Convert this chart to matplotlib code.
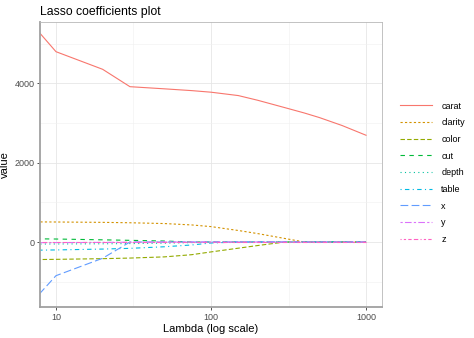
import matplotlib
matplotlib.use("Agg")
import matplotlib.pyplot as plt
from matplotlib.ticker import FixedLocator, NullFormatter

plt.rcParams["font.family"] = ["Liberation Sans", "DejaVu Sans"]
plt.rcParams["lines.scale_dashes"] = False

# Penalty values along the regularisation path
lambdas = [5, 10, 20, 30, 50, 75, 100, 150, 200, 300, 400, 500, 700, 1000]

# Coefficient estimates per feature at each lambda
carat   = [6150, 4796, 4352, 3914, 3860, 3815, 3775, 3690, 3572, 3385, 3251, 3136, 2936, 2690]
clarity = [510, 504, 495, 485, 465, 430, 388, 290, 212, 88, 0, 0, 0, 0]
color   = [-450, -437, -420, -405, -375, -320, -250, -156, -89, 0, 0, 0, 0, 0]
cut     = [88, 75, 55, 42, 25, 0, 0, 0, 0, 0, 0, 0, 0, 0]
depth   = [-55, -50, -45, -40, -30, -15, 0, 0, 0, 0, 0, 0, 0, 0]
table   = [-215, -200, -178, -160, -120, -75, -25, 0, 0, 0, 0, 0, 0, 0]
x       = [-2144, -849, -410, 0, 0, 0, 0, 0, 0, 0, 0, 0, 0, 0]
y       = [-20, -15, -10, -5, 0, 0, 0, 0, 0, 0, 0, 0, 0, 0]
z       = [0, 0, 0, 0, 0, 0, 0, 0, 0, 0, 0, 0, 0, 0]

names = ["carat", "clarity", "color", "cut", "depth", "table", "x", "y", "z"]
series = [carat, clarity, color, cut, depth, table, x, y, z]
colors = ["#F8766D", "#D39200", "#93AA00", "#00BA38", "#00C19F",
          "#00B9E3", "#619CFF", "#DB72FB", "#FF61C3"]

u = 0.8  # dash unit in points
patterns = [None, (2, 2), (4, 2), (4, 4), (1, 3), (1, 3, 4, 3), (7, 3),
            (2, 2, 6, 2), (1, 2, 2, 2, 3, 2, 4, 2)]

x_ticks = [10, 100, 1000]
x_minor = [10 ** 1.5, 10 ** 2.5]
y_ticks = [0, 2000, 4000]
y_minor = [-1000, 1000, 3000, 5000]

W, H = 474, 338
fig = plt.figure(figsize=(W / 100, H / 100), dpi=100)
ax = fig.add_axes([40 / W, (H - 307) / H, (382 - 40) / W, (307 - 22) / H])

for name, vals, col, pat in zip(names, series, colors, patterns):
    line, = ax.plot(lambdas, vals, color=col, lw=0.8, label=name)
    if pat is not None:
        line.set_dashes([p * u for p in pat])

ax.set_xscale("log")
ax.set_xlim(10 ** (1 - 0.103), 10 ** (3 + 0.103))
ax.set_ylim(-1638, 5544)

ax.xaxis.set_major_locator(FixedLocator(x_ticks))
ax.xaxis.set_minor_locator(FixedLocator(x_minor))
ax.xaxis.set_minor_formatter(NullFormatter())
ax.set_xticklabels([str(t) for t in x_ticks])
ax.yaxis.set_major_locator(FixedLocator(y_ticks))
ax.yaxis.set_minor_locator(FixedLocator(y_minor))
ax.set_yticklabels([str(t) for t in y_ticks])

ax.grid(which="major", color="#E6E6E6", lw=0.6)
ax.grid(which="minor", color="#F0F0F0", lw=0.4)
ax.set_axisbelow(True)

for side in ("top", "right"):
    ax.spines[side].set_color("#B8B8B8")
    ax.spines[side].set_linewidth(0.6)
for side in ("left", "bottom"):
    ax.spines[side].set_color("#A0A0A0")
    ax.spines[side].set_linewidth(1.3)

ax.tick_params(which="major", length=2.5, width=0.6, color="#333333",
               labelsize=6.5, labelcolor="#4D4D4D", pad=1.5)
ax.tick_params(which="minor", length=0)

ax.set_xlabel("Lambda (log scale)", fontsize=8, labelpad=2)
ax.set_ylabel("value", fontsize=8, labelpad=3)
ax.set_title("Lasso coefficients plot", fontsize=8.8, loc="left", pad=5)

leg = ax.legend(loc="upper left", bbox_to_anchor=(396 / W, (H - 98) / H),
                bbox_transform=fig.transFigure, frameon=False, fontsize=6.5,
                handlelength=3.6, handletextpad=1.0, labelspacing=0.85,
                borderaxespad=0)

fig.savefig("out.png", dpi=100)
